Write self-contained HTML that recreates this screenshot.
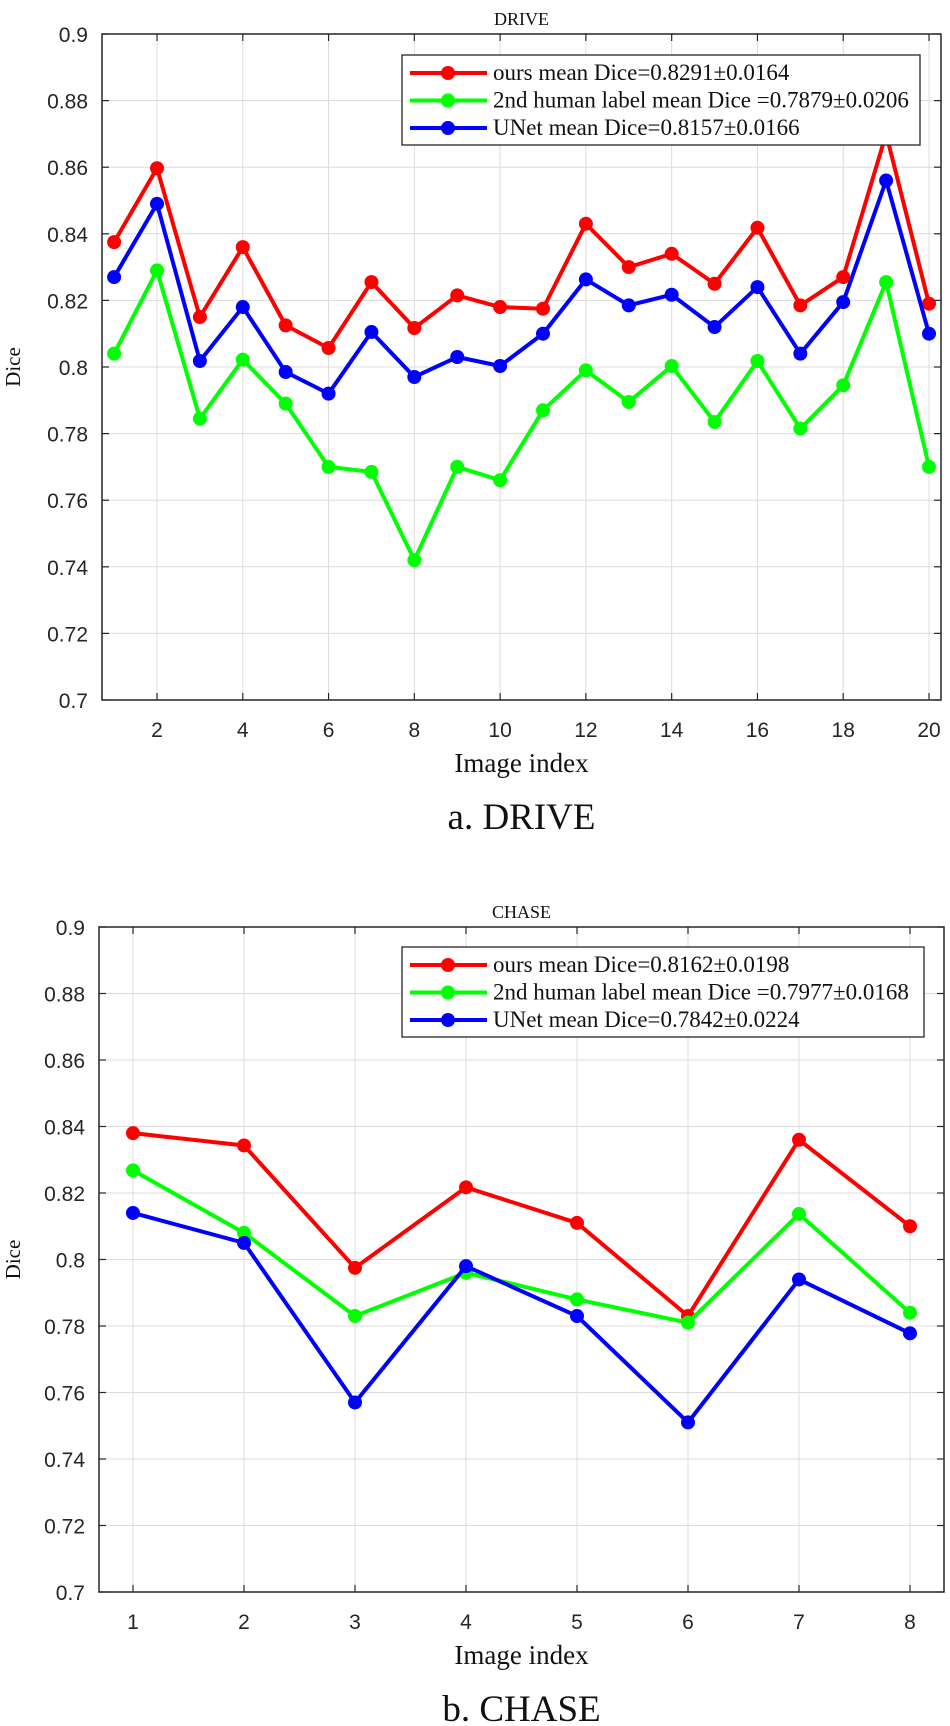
<!DOCTYPE html>
<html><head><meta charset="utf-8"><style>
body{margin:0;background:#fff;}
svg{display:block;}
.tk{font-family:"Liberation Sans",sans-serif;font-size:21px;fill:#262626;}
.sf{font-family:"Liberation Serif",serif;fill:#111;}
</style></head><body>
<svg id="s" width="950" height="1726" viewBox="0 0 950 1726"></svg>
<script>
const driveIdx=[1,2,3,4,5,6,7,8,9,10,11,12,13,14,15,16,17,18,19,20];
const driveOurs=[0.8375,0.8597,0.815,0.836,0.8125,0.8057,0.8255,0.8117,0.8215,0.818,0.8175,0.843,0.830,0.834,0.825,0.8418,0.8185,0.827,0.870,0.819];
const driveHuman=[0.804,0.829,0.7845,0.8022,0.789,0.770,0.7685,0.742,0.770,0.766,0.787,0.799,0.7895,0.8003,0.7835,0.8018,0.7815,0.7945,0.8255,0.770];
const driveUnet=[0.827,0.849,0.8018,0.818,0.7985,0.792,0.8105,0.797,0.803,0.8003,0.810,0.8263,0.8185,0.8217,0.812,0.824,0.804,0.8195,0.856,0.810];
const driveXTicks=[2,4,6,8,10,12,14,16,18,20];
const chaseIdx=[1,2,3,4,5,6,7,8];
const chaseOurs=[0.838,0.8343,0.7975,0.8217,0.811,0.783,0.836,0.810];
const chaseHuman=[0.8268,0.808,0.783,0.796,0.788,0.781,0.8137,0.784];
const chaseUnet=[0.814,0.805,0.757,0.798,0.783,0.751,0.794,0.7778];
const chaseXTicks=[1,2,3,4,5,6,7,8];
const yTicks=[0.7,0.72,0.74,0.76,0.78,0.8,0.82,0.84,0.86,0.88,0.9];
const driveLegend=["ours mean Dice=0.8291±0.0164","2nd human label mean Dice =0.7879±0.0206","UNet mean Dice=0.8157±0.0166"];
const chaseLegend=["ours mean Dice=0.8162±0.0198","2nd human label mean Dice =0.7977±0.0168","UNet mean Dice=0.7842±0.0224"];
const colors=["#ff0000","#00ff00","#0000ff"];
const NS="http://www.w3.org/2000/svg";
const svg=document.getElementById('s');
function mk(tag,attrs,parent,text){const e=document.createElementNS(NS,tag);for(const k in attrs)e.setAttribute(k,attrs[k]);if(text!==undefined)e.textContent=text;(parent||svg).appendChild(e);return e;}
function chart(o){
  const g=mk('g',{});
  
  
  const xs=v=>o.x0+(v-o.i0)*(o.x1-o.x0)/(o.i1-o.i0);
  const ys=v=>o.bot-(v-0.7)/0.2*(o.bot-o.top);
  o.xt.forEach(t=>{mk('line',{x1:xs(t),x2:xs(t),y1:o.top,y2:o.bot,stroke:'#dcdcdc','stroke-width':1},g);});
  yTicks.forEach(t=>{mk('line',{x1:o.L,x2:o.R,y1:ys(t),y2:ys(t),stroke:'#dcdcdc','stroke-width':1},g);});
  [o.s[0],o.s[1],o.s[2]].forEach((arr,k)=>{
    const line=mk('polyline',{points:arr.map((v,i)=>xs(o.idx[i])+','+ys(v)).join(' '),fill:'none',stroke:colors[k],'stroke-width':4,'stroke-linejoin':'round'},g);
    
    
    arr.forEach((v,i)=>{const c=mk('circle',{cx:xs(o.idx[i]),cy:ys(v),r:7,fill:colors[k]},g);
      
      });
  });
  mk('rect',{x:o.L,y:o.top,width:o.R-o.L,height:o.bot-o.top,fill:'none',stroke:'#262626','stroke-width':1.5},g);
  o.xt.forEach(t=>{const x=xs(t);
    mk('line',{x1:x,x2:x,y1:o.bot,y2:o.bot-7,stroke:'#262626','stroke-width':1.2},g);
    mk('line',{x1:x,x2:x,y1:o.top,y2:o.top+7,stroke:'#262626','stroke-width':1.2},g);
    const tl=mk('text',{x:x,y:o.bot+37,'text-anchor':'middle',class:'tk'},g,String(t));
    
    });
  yTicks.forEach(t=>{const y=ys(t);
    mk('line',{x1:o.L,x2:o.L+7,y1:y,y2:y,stroke:'#262626','stroke-width':1.2},g);
    mk('line',{x1:o.R,x2:o.R-7,y1:y,y2:y,stroke:'#262626','stroke-width':1.2},g);
    const tl=mk('text',{x:o.L-14,y:y+8,'text-anchor':'end',class:'tk'},g,String(t));
    
    });
  const tt=mk('text',{x:(o.L+o.R)/2,y:o.top-9,'text-anchor':'middle',class:'sf','font-size':18},g,o.title);
  
  
  const yl=mk('text',{x:0,y:0,'text-anchor':'middle',class:'sf','font-size':21,transform:`translate(20,${(o.top+o.bot)/2}) rotate(-90)`},g,'Dice');
  
  
  const xl=mk('text',{x:(o.L+o.R)/2,y:o.bot+72,'text-anchor':'middle',class:'sf','font-size':27},g,'Image index');
  
  
  const cap=mk('text',{x:(o.L+o.R)/2,y:o.bot+129,'text-anchor':'middle',class:'sf','font-size':37},g,o.cap);
  
  
  const lg=mk('g',{},g);
  
  
  mk('rect',{x:o.lx,y:o.ly,width:o.lw,height:90,fill:'#fff',stroke:'#262626','stroke-width':1.3},lg);
  o.leg.forEach((t,k)=>{const y=o.ly+18+k*27.5;
    mk('line',{x1:o.lx+8,x2:o.lx+85,y1:y,y2:y,stroke:colors[k],'stroke-width':4},lg);
    mk('circle',{cx:o.lx+46,cy:y,r:7,fill:colors[k]},lg);
    const te=mk('text',{x:o.lx+91,y:y+7,class:'sf','font-size':23},lg,t);
    
    });
}
chart({name:'drive-chart',title:'DRIVE',cap:'a. DRIVE',L:102,R:941,top:34,bot:700,x0:157,x1:929,i0:2,i1:20,idx:driveIdx,xt:driveXTicks,s:[driveOurs,driveHuman,driveUnet],leg:driveLegend,lx:402,ly:55,lw:518});
chart({name:'chase-chart',title:'CHASE',cap:'b. CHASE',L:99,R:944,top:927,bot:1592,x0:133,x1:910,i0:1,i1:8,idx:chaseIdx,xt:chaseXTicks,s:[chaseOurs,chaseHuman,chaseUnet],leg:chaseLegend,lx:402,ly:947,lw:522});
</script>
</body></html>
